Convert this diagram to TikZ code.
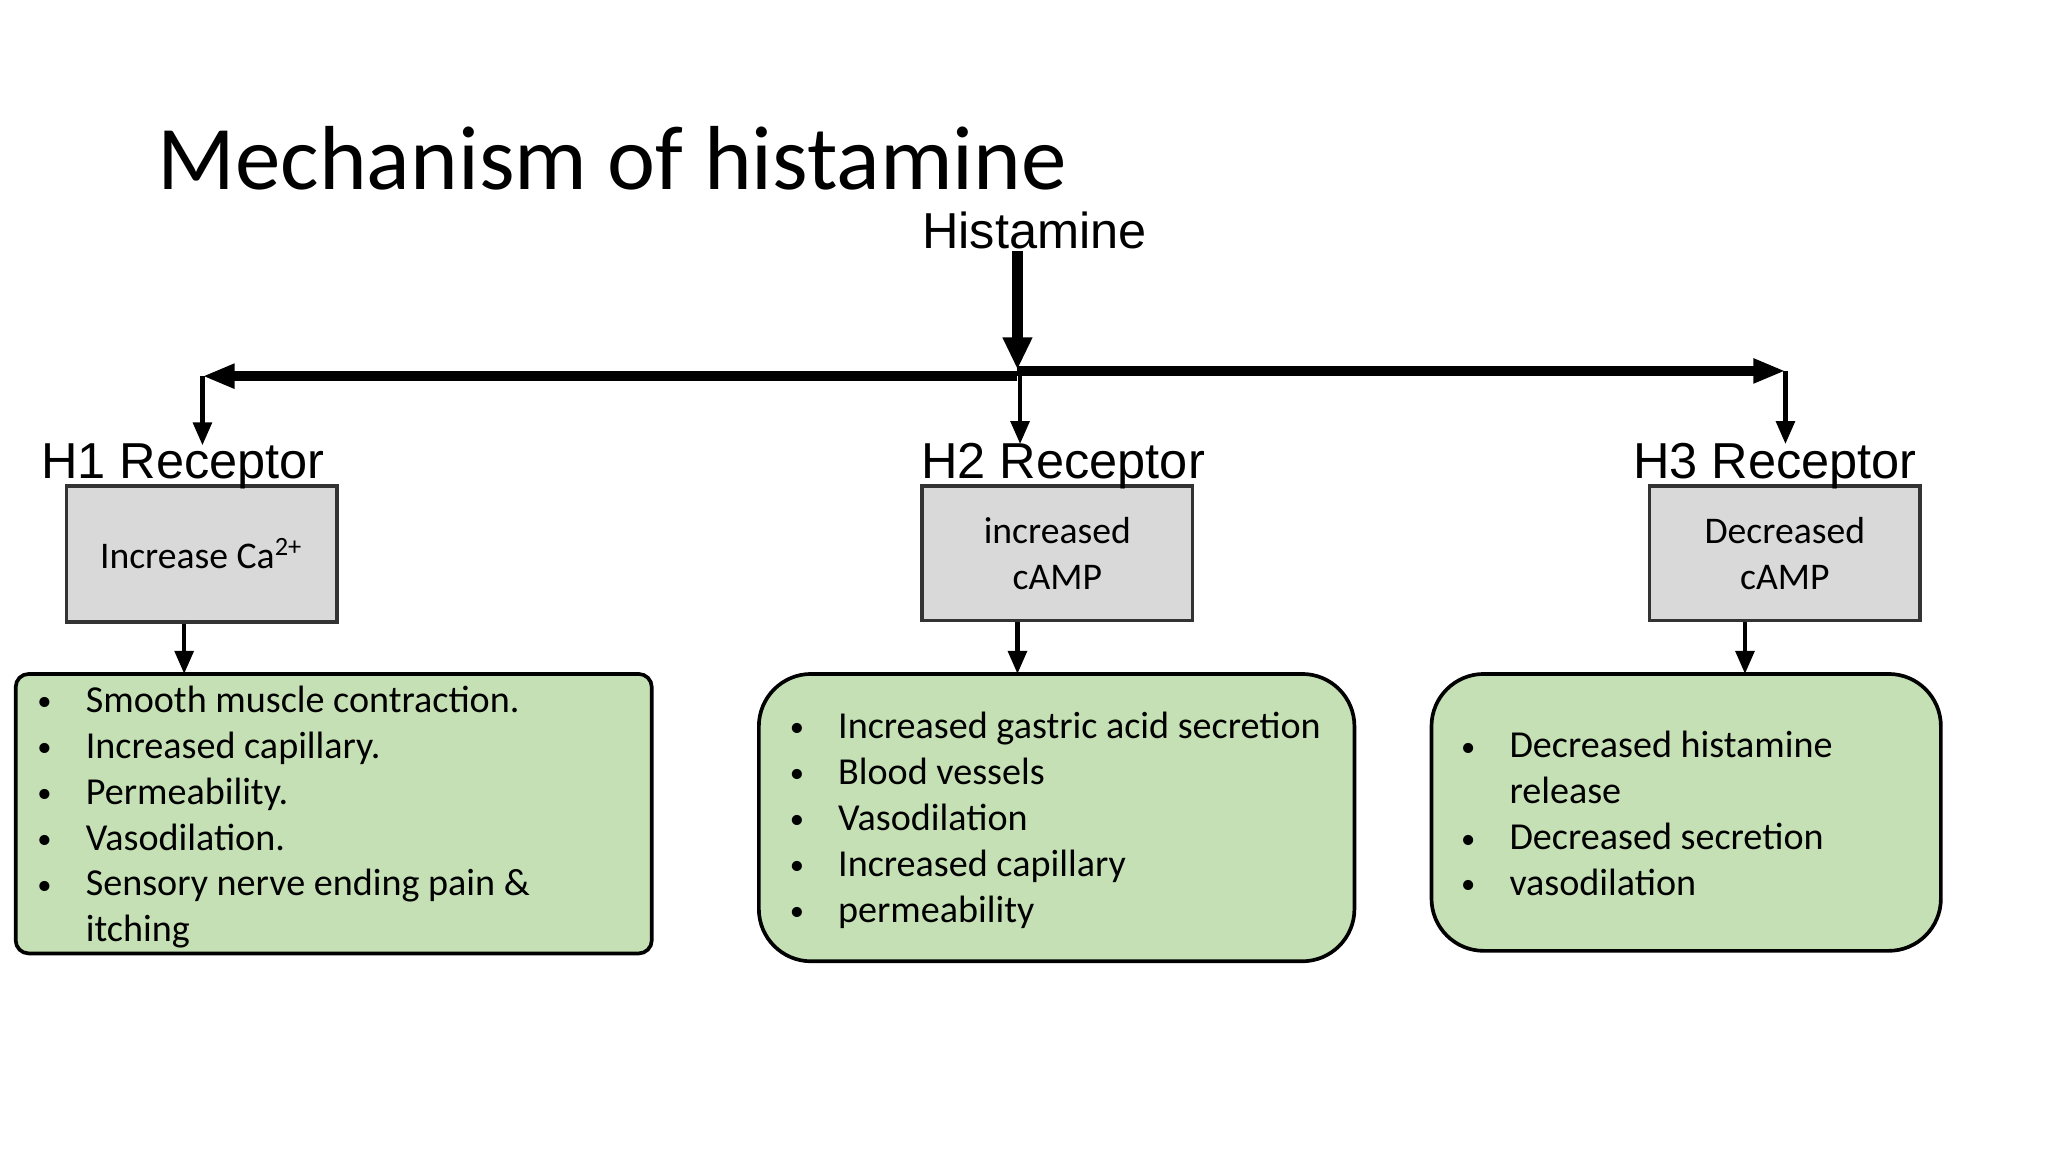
\documentclass[tikz,border=0pt]{standalone}
\usepackage{fontspec}
\setmainfont{Carlito}
\newfontfamily\arialf{Liberation Sans}
\usetikzlibrary{arrows.meta}
\newcommand{\bul}{\raisebox{0.1ex}{\scalebox{0.75}{\textbullet}}}
\begin{document}
\begin{tikzpicture}[x=0.01cm,y=-0.01cm,
  gbox/.style={draw=black!80,fill=black!15,line width=0.8pt},
  green/.style={draw=black,line width=0.8pt},
  thick arr/.style={line width=2.2pt,-{Triangle[length=7pt,width=6pt]}},
  thin arr/.style={line width=1pt,-{Triangle[length=5pt,width=4pt]}},
  rec/.style={font=\arialf\fontsize{11}{13}\selectfont,inner sep=0pt,anchor=base},
  btxt/.style={font=\fontsize{8.3}{10}\selectfont,inner sep=0pt,anchor=north west},
  gtxt/.style={font=\fontsize{8.2}{10}\selectfont,align=center}]
\useasboundingbox (0,0) rectangle (1568,882);
\definecolor{lg}{HTML}{C5E0B4}
\node[font=\fontsize{19.8}{24}\selectfont,inner sep=0pt,anchor=base west] (title) at (120,145) {Mechanism of histamine};
\node[font=\arialf\fontsize{11}{13}\selectfont,inner sep=0pt,anchor=base] (hist) at (792,190) {Histamine};
\coordinate (j) at (779,283);
\coordinate (l) at (155,288);
\coordinate (r) at (1367,284);
\coordinate (lm) at (779,288);
\coordinate (rm) at (779,284);
% boxes
\node[gbox,minimum width=2.07cm,minimum height=1.04cm,gtxt] (b1) at (154.5,424) {Increase Ca\textsuperscript{2+}};
\node[gbox,minimum width=2.07cm,minimum height=1.03cm,gtxt] (b2) at (809.5,423.5) {increased\\[0pt]cAMP};
\node[gbox,minimum width=2.07cm,minimum height=1.03cm,gtxt] (b3) at (1366.5,423.5) {Decreased\\[0pt]cAMP};
\node[rec] (h1) at (140,366) {H1 Receptor};
\node[rec] (h2) at (814,366) {H2 Receptor};
\node[rec] (h3) at (1359,366) {H3 Receptor};
% green
\draw[green,fill=lg,rounded corners=0.1cm] (12,516) rectangle (499,730);
\draw[green,fill=lg,rounded corners=0.4cm] (581,516) rectangle (1037,736);
\draw[green,fill=lg,rounded corners=0.4cm] (1096,516) rectangle (1486,728);
\coordinate (g1) at (141,516);
\coordinate (g2) at (779,516);
\coordinate (g3) at (1336,516);
\node[btxt] (t1) at (28,520) {\begin{tabular}{@{}p{0.37cm}@{}l@{}}
\bul & Smooth muscle contraction.\\
\bul & Increased capillary.\\
\bul & Permeability.\\
\bul & Vasodilation.\\
\bul & Sensory nerve ending pain \&\\
 & itching\end{tabular}};
\node[btxt] (t2) at (604,540) {\begin{tabular}{@{}p{0.37cm}@{}l@{}}
\bul & Increased gastric acid secretion\\
\bul & Blood vessels\\
\bul & Vasodilation\\
\bul & Increased capillary\\
\bul & permeability\end{tabular}};
\node[btxt] (t3) at (1118,555) {\begin{tabular}{@{}p{0.37cm}@{}l@{}}
\bul & Decreased histamine\\
 & release\\
\bul & Decreased secretion\\
\bul & vasodilation\end{tabular}};
% connectors
\draw[thick arr] (779,192) -- (j);
\draw[line width=2.2pt,-{Triangle[length=7pt,width=5pt]}] (lm) -- (l);
\draw[line width=2.2pt,-{Triangle[length=7pt,width=5pt]}] (rm) -- (r);
\draw[thin arr] (l) -- (155,341);
\draw[thin arr] (781,288) -- (781,340);
\draw[thin arr] (r) -- (1367,340);
\draw[thin arr] (b1.south -| g1) -- (g1);
\draw[thin arr] (b2.south -| g2) -- (g2);
\draw[thin arr] (b3.south -| g3) -- (g3);
\end{tikzpicture}
\end{document}
